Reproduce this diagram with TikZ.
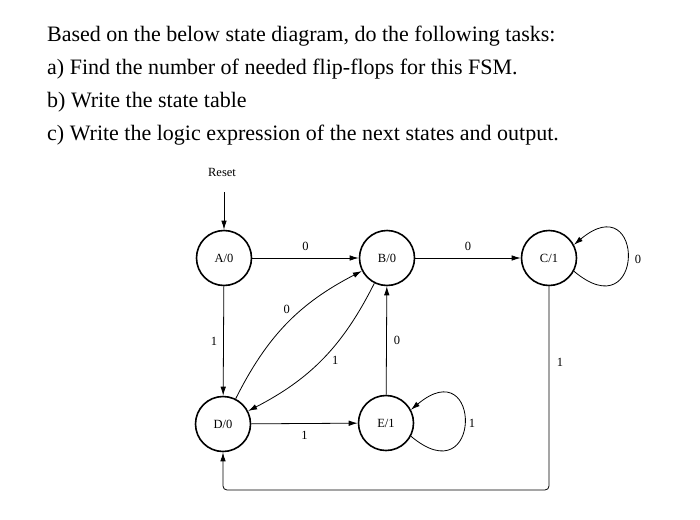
\documentclass[tikz,border=0pt]{standalone}
\usepackage{fontspec}
\setmainfont{Liberation Serif}
\usetikzlibrary{arrows.meta}
\begin{document}
\begin{tikzpicture}[x=1pt,y=-1pt,
  st/.style={circle,draw,line width=1.6pt,minimum size=55pt,inner sep=0pt,font=\fontsize{12.5}{14}\selectfont},
  hd/.style={anchor=west,inner sep=0pt,font=\fontsize{22}{26}\selectfont},
  lb/.style={font=\fontsize{12.5}{14}\selectfont,inner sep=1pt},
  ar/.style={-{Latex[length=9pt,width=5.5pt]},line width=0.8pt}]
\useasboundingbox (0,0) rectangle (700,519);
\node[hd] (h1) at (47,36) {Based on the below state diagram, do the following tasks:};
\node[hd] (h2) at (47,69) {a) Find the number of needed flip-flops for this FSM.};
\node[hd] (h3) at (47,102) {b) Write the state table};
\node[hd] (h4) at (47,135) {c) Write the logic expression of the next states and output.};
\node[lb] (rs) at (222,172) {Reset};
\coordinate (r0) at (224,192);
\node[st] (A) at (224,258) {A/0};
\node[st] (B) at (387,258) {B/0};
\node[st] (C) at (549,258) {C/1};
\node[st] (D) at (223,424) {D/0};
\node[st] (E) at (386,423) {E/1};
\draw[ar] (r0) -- (A);
\draw[ar] (A) -- node[lb,above=6pt]{0} (B);
\draw[ar] (B) -- node[lb,above=6pt]{0} (C);
\draw[ar] (A) -- node[lb,left=5pt]{1} (D);
\draw[ar] (D) -- node[lb,below=6pt]{1} (E);
\draw[ar] (E) -- node[lb,right=6pt]{0} (B);
\draw[ar] (D) to[bend left=18] node[lb,pos=0.55,above left=2pt]{0} (B);
\draw[ar] (B) to[bend left=18] node[lb,pos=0.45,below right=2pt]{1} (D);
\draw[ar] (C.-28) to[out=-40,in=40,looseness=9] (C.28);
\node[lb] (l0) at (638,259) {0};
\draw[ar] (E.-28) to[out=-40,in=40,looseness=9] (E.28);
\node[lb] (l1) at (472,423) {1};
\draw[ar,rounded corners=4pt] (C.south) -- (549,490) -- (223,490) -- (D.south);
\node[lb] (l2) at (560,362) {1};
\end{tikzpicture}
\end{document}
